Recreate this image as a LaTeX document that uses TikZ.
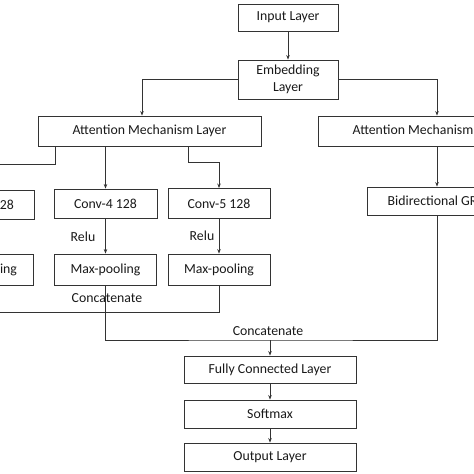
\documentclass[tikz,border=0pt]{standalone}
\usepackage{fontspec}
\setmainfont{Carlito}
\usetikzlibrary{arrows.meta}
\begin{document}
\begin{tikzpicture}[x=1pt,y=-1pt,
  box/.style={draw=black!80,line width=0.9pt,inner sep=0pt,align=center,
    font=\fontsize{13.8}{17}\selectfont,text=black!90},
  lbl/.style={inner sep=0pt,font=\fontsize{13.8}{17}\selectfont,text=black!90},
  con/.style={draw=black!80,line width=0.9pt},
  arr/.style={con,-{Stealth[length=4.5pt,width=3.5pt]}}]
\useasboundingbox (0,0) rectangle (474,474);
\clip (0,0) rectangle (474,474);
\node[box,minimum width=100pt,minimum height=27pt] (in) at (288,17.5) {Input Layer};
\node[box,minimum width=100pt,minimum height=39pt] (emb) at (288,79.5) {Embedding\\Layer};
\node[box,minimum width=223pt,minimum height=30pt] (aml) at (149.5,131) {Attention Mechanism Layer};
\node[box,minimum width=223pt,minimum height=30pt] (amr) at (429.5,131) {Attention Mechanism Layer};
\node[box,minimum width=103pt,minimum height=29pt] (c3) at (-17.5,204.5) {Conv-3 128};
\node[box,minimum width=103pt,minimum height=29pt] (c4) at (105.5,203.5) {Conv-4 128};
\node[box,minimum width=102pt,minimum height=30pt] (c5) at (219,203.5) {Conv-5 128};
\node[box,minimum width=102pt,minimum height=31pt] (mp3) at (-18,269.5) {Max-pooling};
\node[box,minimum width=102pt,minimum height=31pt] (mp1) at (105.5,269.5) {Max-pooling};
\node[box,minimum width=102pt,minimum height=31pt] (mp2) at (219,269.5) {Max-pooling};
\node[box,minimum width=140pt,minimum height=28pt] (gru) at (437,201) {Bidirectional GRU};
\node[box,minimum width=172pt,minimum height=27pt] (fc) at (270,369.5) {Fully Connected Layer};
\node[box,minimum width=172pt,minimum height=28pt] (sm) at (270,414) {Softmax};
\node[box,minimum width=172pt,minimum height=28pt] (out) at (270,457) {Output Layer};
\node[lbl] (r1) at (83,237) {Relu};
\node[lbl] (r2) at (202,236) {Relu};
\node[lbl] (cc1) at (107,298) {Concatenate};
\node[lbl] (cc2) at (268,331) {Concatenate};
\coordinate (cj) at (270,340);
\draw[arr] (in) -- (emb);
\draw[arr] (emb.west) -| ([xshift=-7.5pt]aml.north);
\draw[arr] (emb.east) -| (amr.north -| gru.north);
\draw[arr] ([xshift=-94.5pt]aml.south) -- ++(0,18) -| (c3.north);
\draw[arr] (aml.south -| c4.north) -- (c4.north);
\draw[arr] ([xshift=38.5pt]aml.south) -- ++(0,16) -| (c5.north);
\draw[arr] (amr.south -| gru.north) -- (gru.north);
\draw[arr] (c3) -- (mp3);
\draw[arr] (c4) -- (mp1);
\draw[arr] (c5) -- (mp2);
\draw[con] (mp2.south) -- ++(0,27) -| (mp3.south);
\draw[con] (mp1.south) |- (cj) -| (gru.south);
\draw[arr] (cj) -- (fc.north);
\draw[arr] (fc) -- (sm);
\draw[arr] (sm) -- (out);
\end{tikzpicture}
\end{document}
